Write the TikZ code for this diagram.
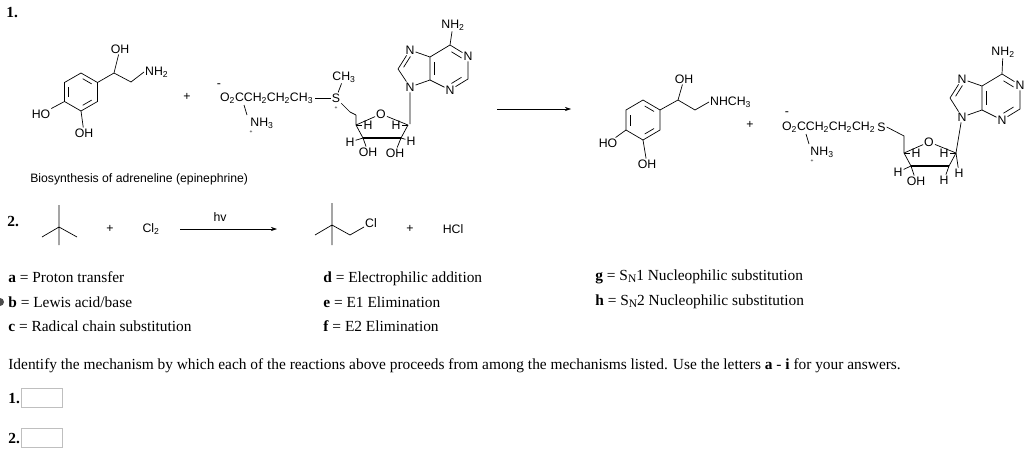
\documentclass[tikz,border=0pt]{standalone}
\usepackage{fontspec}
\setmainfont{Liberation Serif}
\newfontfamily\chem{Liberation Sans}
\usetikzlibrary{arrows.meta,calc}
\newcommand\dbl[3]{\draw[shorten >=2pt,shorten <=2pt] ($(#1)!.25!(#3)$)--($(#2)!.25!(#3)$);}
\begin{document}
\begin{tikzpicture}[x=1pt,y=-1pt,line width=0.7pt,
  atm/.style={inner sep=0.8pt,font=\chem\fontsize{12.3}{12}\selectfont},
  txt/.style={inner sep=0,anchor=base west,font=\fontsize{15.4}{17}\selectfont},
  btxt/.style={inner sep=0,anchor=base west,font=\bfseries\fontsize{15.4}{17}\selectfont},
  captxt/.style={inner sep=0,anchor=base west,font=\chem\fontsize{12.2}{14}\selectfont},
  rx/.style={-{Stealth[length=6pt,width=4pt]},line width=0.6pt},
  ansbox/.style={draw=black!25,line width=0.8pt,minimum width=41pt,minimum height=19pt,inner sep=0}]
\useasboundingbox (0,0) rectangle (1024,455);
\fill[black!70] (0,302) circle (4);
\node[btxt] (n1) at (6,17) {1.};
% ---------- catechol part (reactant) ----------
\begin{scope}[shift={(81,92)}]
 \coordinate (o) at (0,0);
 \coordinate (a1) at (0,-19); \coordinate (a2) at (16.5,-9.5); \coordinate (a3) at (16.5,9.5);
 \coordinate (a4) at (0,19); \coordinate (a5) at (-16.5,9.5); \coordinate (a6) at (-16.5,-9.5);
 \draw (a1)--(a2)--(a3)--(a4)--(a5)--(a6)--cycle;
 \dbl{a5}{a6}{o} \dbl{a1}{a2}{o} \dbl{a3}{a4}{o}
 \coordinate (cb) at (33,-19); \coordinate (cc) at (50,-10);
 \node[atm] (oh1) at (39,-43) {OH};
 \node[atm,anchor=west] (nh1) at (63,-20) {NH\textsubscript{2}};
 \node[atm] (ho1) at (-40,22) {HO};
 \node[atm] (oh2) at (3,41) {OH};
 \draw (a2)--(cb)--(cc)--(nh1.west) (cb)--(oh1) (a5)--(ho1) (a4)--(oh2);
\end{scope}
\node[atm] (p1) at (187,97) {+};
% ---------- SAM ----------
\node[atm,anchor=west] (sam) at (219,98) {O\textsubscript{2}CCH\textsubscript{2}CH\textsubscript{2}CH\textsubscript{3}};
\node[atm] (m1) at (219,86) {-};
\node[atm] (s1) at (336,98) {S};
\draw ([xshift=1pt]sam.east)--(s1.west);
\node[atm] (ps1) at (336,108) {\tiny +};
\node[atm] (me1) at (344,77) {CH\textsubscript{3}};
\node[atm] (nh3a) at (262,123) {NH\textsubscript{3}};
\node[atm] (pn1) at (251,132) {\tiny +};
\draw (s1)--(me1) (244,105)--(247,115);
\begin{scope}[shift={(356,125)}]
 \coordinate (r4) at (0,0); \node[atm] (ro) at (25,-11) {O}; \coordinate (r1) at (52,0);
 \coordinate (r2) at (45,13); \coordinate (r3) at (7,13);
 \draw (r4)--(ro)--(r1) (r4)--(r3) (r1)--(r2) (r4)--(0,-10);
 \draw[line width=2pt] (r3)--(r2);
 \node[atm] (h1) at (12,0) {H}; \node[atm] (h2) at (40,0) {H};
 \draw (r4)--(h1) (r1)--(h2);
 \node[atm] (h3) at (-6,17) {H}; \node[atm] (oh3) at (12,27) {OH};
 \node[atm] (oh4) at (39,28) {OH}; \node[atm] (h4) at (55,16) {H};
 \draw (r3)--(oh3) (r2)--(oh4) (r3)--(h3) (r2)--(h4);
\end{scope}
\draw (s1)--(350,112)--(356,115);
% adenine
\begin{scope}[shift={(410,87)}]
 \coordinate (f5) at (6,-18); \coordinate (f6) at (39,-19);
 \node[atm] (n9) at (0,0) {N}; \coordinate (c8) at (-12,-18); \node[atm] (n7) at (0,-37) {N};
 \coordinate (c5) at (20,-30); \coordinate (c4) at (20,-7); \coordinate (c6) at (40,-42);
 \node[atm] (na1) at (58,-31) {N}; \coordinate (c2) at (58,-8); \node[atm] (n3) at (40,3) {N};
 \node[atm] (am) at (43,-62) {NH\textsubscript{2}};
 \draw (n9)--(c8)--(n7)--(c5)--(c4)--(n9) (c5)--(c6)--(na1)--(c2)--(n3)--(c4) (c6)--(am)
   (n9)--(0,37);
 \dbl{c8}{n7}{f5} \dbl{c5}{c4}{f6} \dbl{c6}{na1}{f6} \dbl{c2}{n3}{f6}
\end{scope}
\draw[rx] (497,109)--(571,109);
\node[captxt] (cap1) at (30,182) {Biosynthesis of adreneline (epinephrine)};
% ---------- product catechol ----------
\begin{scope}[shift={(643,120)}]
 \coordinate (o2) at (0,0);
 \coordinate (b1) at (0,-20); \coordinate (b2) at (17,-10); \coordinate (b3) at (17,10);
 \coordinate (b4) at (0,20); \coordinate (b5) at (-17,10); \coordinate (b6) at (-17,-10);
 \draw (b1)--(b2)--(b3)--(b4)--(b5)--(b6)--cycle;
 \dbl{b5}{b6}{o2} \dbl{b1}{b2}{o2} \dbl{b3}{b4}{o2}
 \coordinate (pb) at (35,-20); \coordinate (pc) at (52,-10);
 \node[atm] (poh) at (41,-41) {OH};
 \node[atm,anchor=west] (pnh) at (66,-18) {NHCH\textsubscript{3}};
 \node[atm] (pho) at (-35,23) {HO};
 \node[atm] (poh2) at (4,44) {OH};
 \draw (b2)--(pb)--(pc)--(pnh.west) (pb)--(poh) (b5)--(pho) (b4)--(poh2);
\end{scope}
\node[atm] (p2) at (750,125) {+};
% ---------- SAH ----------
\node[atm,anchor=west] (sah) at (781,127) {O\textsubscript{2}CCH\textsubscript{2}CH\textsubscript{2}CH\textsubscript{2}};
\node[atm] (m2) at (787,114) {-};
\node[atm,anchor=west] (s2) at (sah.east) {S};
\node[atm] (nh3b) at (822,152) {NH\textsubscript{3}};
\node[atm] (pn2) at (812,161) {\tiny +};
\draw (806,134)--(809,144);
\begin{scope}[shift={(904,153)}]
 \coordinate (q4) at (0,0); \node[atm] (qo) at (25,-11) {O}; \coordinate (q1) at (52,0);
 \coordinate (q2) at (45,13); \coordinate (q3) at (7,13);
 \draw (q4)--(qo)--(q1) (q4)--(q3) (q1)--(q2);
 \draw[line width=2pt] (q3)--(q2);
 \node[atm] (qh1) at (12,0) {H}; \node[atm] (qh2) at (40,0) {H};
 \draw (q4)--(qh1) (q1)--(qh2);
 \node[atm] (qh3) at (-6,19) {H}; \node[atm] (qoh) at (12,28) {OH};
 \node[atm] (qh4) at (40,27) {H}; \node[atm] (qh5) at (55,20) {H};
 \draw (q3)--(qoh) (q2)--(qh4) (q3)--(qh3) (q1)--(qh5);
\end{scope}
\draw (s2.east)--(904,136)--(904,153);
\begin{scope}[shift={(962,117)}]
 \coordinate (g5) at (6,-19); \coordinate (g6) at (39,-20);
 \node[atm] (m9) at (0,0) {N}; \coordinate (d8) at (-12,-19); \node[atm] (m7) at (0,-38) {N};
 \coordinate (d5) at (20,-31); \coordinate (d4) at (20,-7); \coordinate (d6) at (40,-43);
 \node[atm] (ma1) at (58,-32) {N}; \coordinate (d2) at (58,-8); \node[atm] (m3) at (40,3) {N};
 \node[atm] (am2) at (41,-65) {NH\textsubscript{2}};
 \draw (m9)--(d8)--(m7)--(d5)--(d4)--(m9) (d5)--(d6)--(ma1)--(d2)--(m3)--(d4) (d6)--(am2)
   (m9)--(-6,36);
 \dbl{d8}{m7}{g5} \dbl{d5}{d4}{g6} \dbl{d6}{ma1}{g6} \dbl{d2}{m3}{g6}
\end{scope}
% ---------- reaction 2 ----------
\node[btxt] (n2) at (7,226) {2.};
\coordinate (t0) at (59,227);
\draw (t0)--(59,205) (t0)--(59,245) (t0)--(42,237) (t0)--(77,237);
\node[atm] (p3) at (110,229) {+};
\node[atm] (cl2) at (151,229) {Cl\textsubscript{2}};
\draw[rx] (180,229)--(277,229);
\node[atm] (hv) at (220,217) {hv};
\coordinate (u0) at (332,225);
\coordinate (u1) at (350,235);
\node[atm] (cl) at (371,223) {Cl};
\draw (u0)--(332,203) (u0)--(332,245) (u0)--(315,235) (u0)--(u1)--(cl);
\node[atm] (p4) at (410,229) {+};
\node[atm] (hcl) at (453,229) {HCl};
% ---------- options ----------
\node[txt] (oa) at (8,282) {\textbf{a} = Proton transfer};
\node[txt] (ob) at (8,307) {\textbf{b} = Lewis acid/base};
\node[txt] (oc) at (8,331) {\textbf{c} = Radical chain substitution};
\node[txt] (od) at (323,282) {\textbf{d} = Electrophilic addition};
\node[txt] (oe) at (323,307) {\textbf{e} = E1 Elimination};
\node[txt] (of) at (323,331) {\textbf{f} = E2 Elimination};
\node[txt] (og) at (595,280) {\textbf{g} = S\raisebox{-0.35ex}{\fontsize{11.5}{11.5}\selectfont N}1 Nucleophilic substitution};
\node[txt] (oh) at (595,305) {\textbf{h} = S\raisebox{-0.35ex}{\fontsize{11.5}{11.5}\selectfont N}2 Nucleophilic substitution};
\node[txt] (q) at (8,369) {Identify the mechanism by which each of the reactions above proceeds from among the mechanisms listed. Use the letters \textbf{a} - \textbf{i} for your answers.};
\node[btxt] (l1) at (8,403) {1.};
\node[ansbox] (box1) at (42,398) {};
\node[btxt] (l2) at (8,443) {2.};
\node[ansbox] (box2) at (42,438) {};
\end{tikzpicture}
\end{document}
